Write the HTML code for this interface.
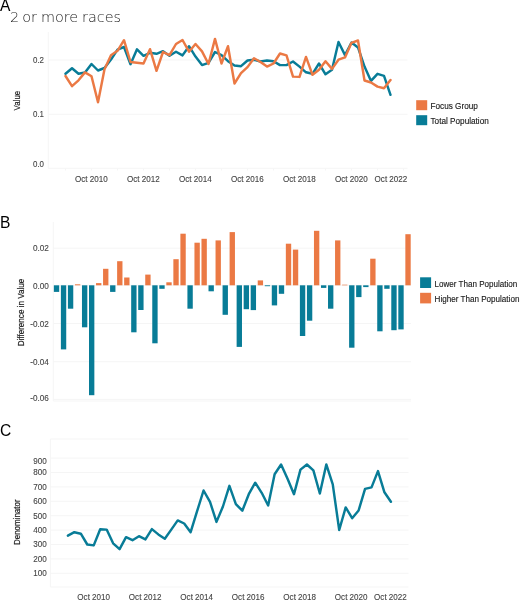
<!DOCTYPE html>
<html><head><meta charset="utf-8"><title>2 or more races</title>
<style>
html,body{margin:0;padding:0;background:#fff;}
body{width:520px;height:606px;overflow:hidden;font-family:"Liberation Sans",Arial,sans-serif;}
svg{display:block;}
text{font-family:"Liberation Sans",Arial,sans-serif;}
.tick{font-size:9.8px;fill:#444;stroke:#444;stroke-width:0.12px;}
.tb{font-size:9.9px;}
.tc{font-size:9.3px;}
.axt{font-size:9.5px;fill:#1a1a1a;stroke:#1a1a1a;stroke-width:0.2px;}
.leg{font-size:9.5px;fill:#1a1a1a;stroke:#1a1a1a;stroke-width:0.15px;}
.pl{font-size:15.6px;fill:#000;}
.title{font-family:"DejaVu Sans","Liberation Sans",sans-serif;font-weight:200;font-size:14.4px;fill:#222;}
</style></head><body>
<svg width="520" height="606" viewBox="0 0 520 606">
<rect width="520" height="606" fill="#fff"/>
<text x="0" y="11" class="pl" text-anchor="start">A</text>
<text class="title" y="21.6"><tspan x="10.1">2</tspan> <tspan x="22.3">or</tspan> <tspan x="40.9">more</tspan> <tspan x="82">races</tspan></text>
<line x1="48.3" x2="48.3" y1="32" y2="168.3" stroke="#f5f5f5" stroke-width="1"/>
<line x1="48.3" x2="407.5" y1="168.3" y2="168.3" stroke="#f5f5f5" stroke-width="1"/>
<line x1="48.3" x2="407.5" y1="60" y2="60" stroke="#f5f5f5" stroke-width="1"/>
<line x1="48.3" x2="407.5" y1="114.25" y2="114.25" stroke="#f5f5f5" stroke-width="1"/>
<line x1="65.5" x2="65.5" y1="168.3" y2="170.5" stroke="#f5f5f5"/>
<line x1="91.5" x2="91.5" y1="168.3" y2="170.5" stroke="#f5f5f5"/>
<line x1="117.5" x2="117.5" y1="168.3" y2="170.5" stroke="#f5f5f5"/>
<line x1="143.5" x2="143.5" y1="168.3" y2="170.5" stroke="#f5f5f5"/>
<line x1="169.5" x2="169.5" y1="168.3" y2="170.5" stroke="#f5f5f5"/>
<line x1="195.5" x2="195.5" y1="168.3" y2="170.5" stroke="#f5f5f5"/>
<line x1="221.5" x2="221.5" y1="168.3" y2="170.5" stroke="#f5f5f5"/>
<line x1="247.5" x2="247.5" y1="168.3" y2="170.5" stroke="#f5f5f5"/>
<line x1="273.5" x2="273.5" y1="168.3" y2="170.5" stroke="#f5f5f5"/>
<line x1="299.5" x2="299.5" y1="168.3" y2="170.5" stroke="#f5f5f5"/>
<line x1="325.5" x2="325.5" y1="168.3" y2="170.5" stroke="#f5f5f5"/>
<line x1="351.5" x2="351.5" y1="168.3" y2="170.5" stroke="#f5f5f5"/>
<line x1="377.5" x2="377.5" y1="168.3" y2="170.5" stroke="#f5f5f5"/>
<line x1="403.5" x2="403.5" y1="168.3" y2="170.5" stroke="#f5f5f5"/>
<text x="44" y="62.6" class="tick" text-anchor="end" textLength="11" lengthAdjust="spacingAndGlyphs">0.2</text>
<text x="44" y="116.8" class="tick" text-anchor="end" textLength="11" lengthAdjust="spacingAndGlyphs">0.1</text>
<text x="44" y="166.7" class="tick" text-anchor="end" textLength="11" lengthAdjust="spacingAndGlyphs">0.0</text>
<text x="20.3" y="100.6" class="axt" text-anchor="middle" textLength="19.6" lengthAdjust="spacingAndGlyphs" transform="rotate(-90 20.3 100.6)">Value</text>
<text x="91.3" y="181.7" class="tick" text-anchor="middle" textLength="32.7" lengthAdjust="spacingAndGlyphs">Oct 2010</text>
<text x="143.3" y="181.7" class="tick" text-anchor="middle" textLength="32.7" lengthAdjust="spacingAndGlyphs">Oct 2012</text>
<text x="195.3" y="181.7" class="tick" text-anchor="middle" textLength="32.7" lengthAdjust="spacingAndGlyphs">Oct 2014</text>
<text x="247.3" y="181.7" class="tick" text-anchor="middle" textLength="32.7" lengthAdjust="spacingAndGlyphs">Oct 2016</text>
<text x="299.3" y="181.7" class="tick" text-anchor="middle" textLength="32.7" lengthAdjust="spacingAndGlyphs">Oct 2018</text>
<text x="351.3" y="181.7" class="tick" text-anchor="middle" textLength="32.7" lengthAdjust="spacingAndGlyphs">Oct 2020</text>
<text x="407.3" y="181.7" class="tick" text-anchor="end" textLength="32.7" lengthAdjust="spacingAndGlyphs">Oct 2022</text>
<polyline fill="none" stroke="#087c97" stroke-width="2.45" stroke-linejoin="round" stroke-linecap="round" points="65.50,73.8 72.00,68.2 78.50,73.8 85.00,72.5 91.50,64.0 98.00,70.5 104.50,68.0 111.00,59.6 117.50,49.6 124.00,47.0 130.50,64.2 137.00,49.3 143.50,55.8 150.00,52.8 156.50,53.8 163.00,51.2 169.50,55.8 176.00,51.7 182.50,55.4 189.00,46.2 195.50,56.6 202.00,65.1 208.50,62.8 215.00,52.0 221.50,55.1 228.00,61.2 234.50,65.5 241.00,66.2 247.50,60.5 254.00,59.7 260.50,61.5 267.00,60.5 273.50,61.2 280.00,65.1 286.50,65.1 293.00,61.5 299.50,66.6 306.00,72.3 312.50,73.8 319.00,63.5 325.50,74.3 332.00,69.7 338.50,42.0 345.00,55.1 351.50,42.5 358.00,47.4 364.50,66.6 371.00,80.9 377.50,73.8 384.00,75.8 390.50,94.8"/>
<polyline fill="none" stroke="#eb7944" stroke-width="2.45" stroke-linejoin="round" stroke-linecap="round" points="65.50,76.0 72.00,86.2 78.50,80.3 85.00,72.4 91.50,76.3 98.00,102.3 104.50,69.3 111.00,55.2 117.50,50.8 124.00,40.2 130.50,62.0 137.00,62.7 143.50,63.5 150.00,49.2 156.50,70.8 163.00,52.0 169.50,55.1 176.00,44.0 182.50,40.0 189.00,51.7 195.50,44.0 202.00,51.4 208.50,64.0 215.00,38.9 221.50,63.5 228.00,46.2 234.50,83.5 241.00,73.2 247.50,67.1 254.00,58.2 260.50,62.0 267.00,66.6 273.50,63.5 280.00,53.5 286.50,55.4 293.00,76.6 299.50,76.9 306.00,56.9 312.50,74.8 319.00,69.7 325.50,61.2 332.00,68.9 338.50,59.7 345.00,57.4 351.50,42.8 358.00,40.5 364.50,80.5 371.00,82.5 377.50,86.6 384.00,88.2 390.50,80.0"/>
<rect x="416.2" y="100.2" width="11" height="10" fill="#eb7944"/>
<rect x="416.2" y="115.2" width="11" height="10" fill="#087c97"/>
<text x="430.5" y="109.3" class="leg" text-anchor="start" textLength="47.4" lengthAdjust="spacingAndGlyphs">Focus Group</text>
<text x="430.5" y="124.4" class="leg" text-anchor="start" textLength="58.3" lengthAdjust="spacingAndGlyphs">Total Population</text>
<text x="0" y="228.2" class="pl" text-anchor="start">B</text>
<line x1="53.3" x2="53.3" y1="222" y2="401" stroke="#f5f5f5" stroke-width="1"/>
<line x1="53.3" x2="411" y1="401" y2="401" stroke="#f5f5f5" stroke-width="1"/>
<line x1="53.3" x2="411" y1="248.2" y2="248.2" stroke="#f5f5f5" stroke-width="1"/>
<line x1="53.3" x2="411" y1="285.3" y2="285.3" stroke="#f5f5f5" stroke-width="1"/>
<line x1="53.3" x2="411" y1="323.5" y2="323.5" stroke="#f5f5f5" stroke-width="1"/>
<line x1="53.3" x2="411" y1="361.7" y2="361.7" stroke="#f5f5f5" stroke-width="1"/>
<line x1="53.3" x2="411" y1="399.4" y2="399.4" stroke="#f5f5f5" stroke-width="1"/>
<text x="48.9" y="250.6" class="tick tb" text-anchor="end" textLength="16.0" lengthAdjust="spacingAndGlyphs">0.02</text>
<text x="48.9" y="289.0" class="tick tb" text-anchor="end" textLength="16.0" lengthAdjust="spacingAndGlyphs">0.00</text>
<text x="48.9" y="327.1" class="tick tb" text-anchor="end" textLength="18.6" lengthAdjust="spacingAndGlyphs">-0.02</text>
<text x="48.9" y="365.1" class="tick tb" text-anchor="end" textLength="18.6" lengthAdjust="spacingAndGlyphs">-0.04</text>
<text x="48.9" y="401.2" class="tick tb" text-anchor="end" textLength="18.6" lengthAdjust="spacingAndGlyphs">-0.06</text>
<text x="24" y="312.5" class="axt" text-anchor="middle" textLength="67.7" lengthAdjust="spacingAndGlyphs" transform="rotate(-90 24 312.5)">Difference in Value</text>
<rect x="53.85" y="285.3" width="5.35" height="6.6" fill="#087c97"/>
<rect x="60.88" y="285.3" width="5.35" height="64.1" fill="#087c97"/>
<rect x="67.91" y="285.3" width="5.35" height="23.4" fill="#087c97"/>
<rect x="74.94" y="284.3" width="5.35" height="1.0" fill="#eb7944"/>
<rect x="81.97" y="285.3" width="5.35" height="42.0" fill="#087c97"/>
<rect x="89.00" y="285.3" width="5.35" height="109.9" fill="#087c97"/>
<rect x="96.03" y="283.1" width="5.35" height="2.2" fill="#eb7944"/>
<rect x="103.06" y="268.8" width="5.35" height="16.5" fill="#eb7944"/>
<rect x="110.09" y="285.3" width="5.35" height="6.6" fill="#087c97"/>
<rect x="117.12" y="261.2" width="5.35" height="24.1" fill="#eb7944"/>
<rect x="124.15" y="277.5" width="5.35" height="7.8" fill="#eb7944"/>
<rect x="131.18" y="285.3" width="5.35" height="47.0" fill="#087c97"/>
<rect x="138.21" y="285.3" width="5.35" height="24.7" fill="#087c97"/>
<rect x="145.24" y="274.6" width="5.35" height="10.7" fill="#eb7944"/>
<rect x="152.27" y="285.3" width="5.35" height="58.0" fill="#087c97"/>
<rect x="159.30" y="285.3" width="5.35" height="3.5" fill="#087c97"/>
<rect x="166.33" y="282.3" width="5.35" height="3.0" fill="#eb7944"/>
<rect x="173.36" y="259.2" width="5.35" height="26.1" fill="#eb7944"/>
<rect x="180.39" y="233.7" width="5.35" height="51.6" fill="#eb7944"/>
<rect x="187.42" y="285.3" width="5.35" height="23.4" fill="#087c97"/>
<rect x="194.45" y="242.7" width="5.35" height="42.6" fill="#eb7944"/>
<rect x="201.48" y="238.8" width="5.35" height="46.5" fill="#eb7944"/>
<rect x="208.51" y="285.3" width="5.35" height="6.0" fill="#087c97"/>
<rect x="215.54" y="240.4" width="5.35" height="44.9" fill="#eb7944"/>
<rect x="222.57" y="285.3" width="5.35" height="29.5" fill="#087c97"/>
<rect x="229.60" y="232.1" width="5.35" height="53.2" fill="#eb7944"/>
<rect x="236.63" y="285.3" width="5.35" height="61.6" fill="#087c97"/>
<rect x="243.66" y="285.3" width="5.35" height="23.9" fill="#087c97"/>
<rect x="250.69" y="285.3" width="5.35" height="24.8" fill="#087c97"/>
<rect x="257.72" y="280.4" width="5.35" height="4.9" fill="#eb7944"/>
<rect x="264.75" y="285.3" width="5.35" height="0.9" fill="#087c97"/>
<rect x="271.78" y="285.3" width="5.35" height="20.1" fill="#087c97"/>
<rect x="278.81" y="285.3" width="5.35" height="8.5" fill="#087c97"/>
<rect x="285.84" y="243.7" width="5.35" height="41.6" fill="#eb7944"/>
<rect x="292.87" y="249.6" width="5.35" height="35.7" fill="#eb7944"/>
<rect x="299.90" y="285.3" width="5.35" height="50.7" fill="#087c97"/>
<rect x="306.93" y="285.3" width="5.35" height="35.4" fill="#087c97"/>
<rect x="313.96" y="230.8" width="5.35" height="54.5" fill="#eb7944"/>
<rect x="320.99" y="285.3" width="5.35" height="2.6" fill="#087c97"/>
<rect x="328.02" y="285.3" width="5.35" height="23.4" fill="#087c97"/>
<rect x="335.05" y="240.4" width="5.35" height="44.9" fill="#eb7944"/>
<rect x="342.08" y="284.7" width="5.35" height="0.6" fill="#eb7944"/>
<rect x="349.11" y="285.3" width="5.35" height="62.4" fill="#087c97"/>
<rect x="356.14" y="285.3" width="5.35" height="11.8" fill="#087c97"/>
<rect x="363.17" y="285.3" width="5.35" height="1.8" fill="#087c97"/>
<rect x="370.20" y="258.7" width="5.35" height="26.6" fill="#eb7944"/>
<rect x="377.23" y="285.3" width="5.35" height="46.0" fill="#087c97"/>
<rect x="384.26" y="285.3" width="5.35" height="3.5" fill="#087c97"/>
<rect x="391.29" y="285.3" width="5.35" height="44.9" fill="#087c97"/>
<rect x="398.32" y="285.3" width="5.35" height="44.1" fill="#087c97"/>
<rect x="405.35" y="234.2" width="5.35" height="51.1" fill="#eb7944"/>
<rect x="420.1" y="277.3" width="11" height="10.7" fill="#087c97"/>
<rect x="420.1" y="292.8" width="11" height="10.6" fill="#eb7944"/>
<text x="434.6" y="286.5" class="leg" text-anchor="start" textLength="82.7" lengthAdjust="spacingAndGlyphs">Lower Than Population</text>
<text x="434.6" y="301.5" class="leg" text-anchor="start" textLength="84.8" lengthAdjust="spacingAndGlyphs">Higher Than Population</text>
<text x="0" y="435.5" class="pl" text-anchor="start">C</text>
<line x1="50.4" x2="50.4" y1="439" y2="587" stroke="#f5f5f5" stroke-width="1"/>
<line x1="50.4" x2="408.5" y1="587" y2="587" stroke="#f5f5f5" stroke-width="1"/>
<line x1="50.4" x2="408.5" y1="439" y2="439" stroke="#f5f5f5" stroke-width="1"/>
<line x1="50.4" x2="408.5" y1="573.3" y2="573.3" stroke="#f5f5f5" stroke-width="1"/>
<line x1="50.4" x2="408.5" y1="558.9" y2="558.9" stroke="#f5f5f5" stroke-width="1"/>
<line x1="50.4" x2="408.5" y1="544.5" y2="544.5" stroke="#f5f5f5" stroke-width="1"/>
<line x1="50.4" x2="408.5" y1="530.1" y2="530.1" stroke="#f5f5f5" stroke-width="1"/>
<line x1="50.4" x2="408.5" y1="515.7" y2="515.7" stroke="#f5f5f5" stroke-width="1"/>
<line x1="50.4" x2="408.5" y1="501.3" y2="501.3" stroke="#f5f5f5" stroke-width="1"/>
<line x1="50.4" x2="408.5" y1="486.9" y2="486.9" stroke="#f5f5f5" stroke-width="1"/>
<line x1="50.4" x2="408.5" y1="472.5" y2="472.5" stroke="#f5f5f5" stroke-width="1"/>
<line x1="50.4" x2="408.5" y1="458.1" y2="458.1" stroke="#f5f5f5" stroke-width="1"/>
<text x="46.7" y="464.3" class="tick tc" text-anchor="end" textLength="13.5" lengthAdjust="spacingAndGlyphs">900</text>
<text x="46.7" y="475.0" class="tick tc" text-anchor="end" textLength="13.5" lengthAdjust="spacingAndGlyphs">800</text>
<text x="46.7" y="489.6" class="tick tc" text-anchor="end" textLength="13.5" lengthAdjust="spacingAndGlyphs">700</text>
<text x="46.7" y="504.4" class="tick tc" text-anchor="end" textLength="13.5" lengthAdjust="spacingAndGlyphs">600</text>
<text x="46.7" y="518.8" class="tick tc" text-anchor="end" textLength="13.5" lengthAdjust="spacingAndGlyphs">500</text>
<text x="46.7" y="533.2" class="tick tc" text-anchor="end" textLength="13.5" lengthAdjust="spacingAndGlyphs">400</text>
<text x="46.7" y="547.0" class="tick tc" text-anchor="end" textLength="13.5" lengthAdjust="spacingAndGlyphs">300</text>
<text x="46.7" y="561.6" class="tick tc" text-anchor="end" textLength="13.5" lengthAdjust="spacingAndGlyphs">200</text>
<text x="46.7" y="576.4" class="tick tc" text-anchor="end" textLength="13.5" lengthAdjust="spacingAndGlyphs">100</text>
<text x="19.8" y="522.2" class="axt" text-anchor="middle" textLength="45.6" lengthAdjust="spacingAndGlyphs" transform="rotate(-90 19.8 522.2)">Denominator</text>
<text x="93.7" y="599.9" class="tick tc" text-anchor="middle" textLength="32.7" lengthAdjust="spacingAndGlyphs">Oct 2010</text>
<text x="145.2" y="599.9" class="tick tc" text-anchor="middle" textLength="32.7" lengthAdjust="spacingAndGlyphs">Oct 2012</text>
<text x="196.7" y="599.9" class="tick tc" text-anchor="middle" textLength="32.7" lengthAdjust="spacingAndGlyphs">Oct 2014</text>
<text x="248.2" y="599.9" class="tick tc" text-anchor="middle" textLength="32.7" lengthAdjust="spacingAndGlyphs">Oct 2016</text>
<text x="299.7" y="599.9" class="tick tc" text-anchor="middle" textLength="32.7" lengthAdjust="spacingAndGlyphs">Oct 2018</text>
<text x="351.2" y="599.9" class="tick tc" text-anchor="middle" textLength="32.7" lengthAdjust="spacingAndGlyphs">Oct 2020</text>
<text x="406.8" y="599.9" class="tick tc" text-anchor="end" textLength="32.7" lengthAdjust="spacingAndGlyphs">Oct 2022</text>
<polyline fill="none" stroke="#087c97" stroke-width="2.45" stroke-linejoin="round" stroke-linecap="round" points="67.90,535.7 74.36,532.2 80.82,533.7 87.28,544.5 93.74,545.4 100.20,529.3 106.66,529.6 113.12,543.3 119.58,549.2 126.04,537.2 132.50,540.2 138.96,536.2 145.42,539.4 151.88,529.1 158.34,534.4 164.80,538.8 171.26,529.6 177.72,520.4 184.18,523.5 190.64,532.2 197.10,511.2 203.56,490.5 210.02,501.9 216.48,521.9 222.94,506.5 229.40,485.8 235.86,504.2 242.32,510.7 248.78,494.2 255.24,482.7 261.70,492.8 268.16,505.5 274.62,474.2 281.08,464.5 287.54,478.8 294.00,494.2 300.46,469.6 306.92,464.5 313.38,470.4 319.84,493.5 326.30,464.4 332.76,484.4 339.22,530.0 345.68,507.4 352.14,518.2 358.60,510.5 365.06,488.9 371.52,487.4 377.98,471.1 384.44,492.3 390.90,501.8"/>
</svg>
</body></html>
